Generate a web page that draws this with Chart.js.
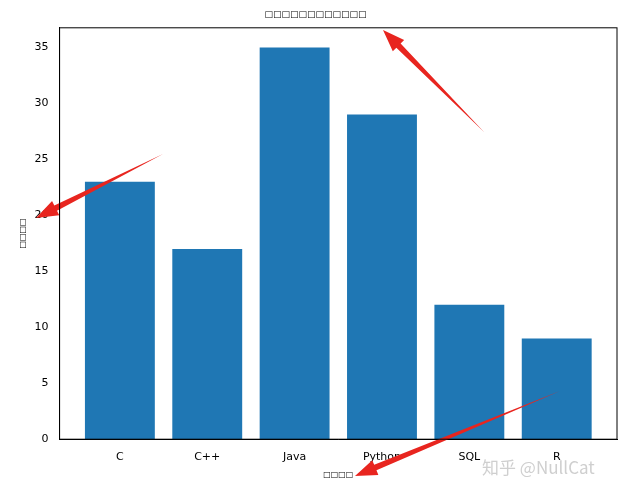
<!DOCTYPE html>
<html>
<head>
<meta charset="utf-8">
<script src="https://cdn.jsdelivr.net/npm/chart.js"></script>
<style>
  body { margin: 0; background: #fff; }
  #wrap { width: 643px; height: 496px; }
</style>
</head>
<body>
<div id="wrap"><canvas id="chart"></canvas></div>
<script>
var languages = ['C', 'C++', 'Java', 'Python', 'SQL', 'R'];
var counts = [23, 17, 35, 29, 12, 9];
var yTicks = [0, 5, 10, 15, 20, 25, 30, 35];
var titleText = '□□□□□□□□□□□□';
var axisText = '□□□□';

// red arrows + watermark drawn over the chart
var overlay = {
  id: 'overlay',
  afterDraw: function(chart) {
    var c = chart.ctx;
    function arrow(x1, y1, x2, y2) {
      var a = Math.atan2(y2 - y1, x2 - x1);
      c.save();
      c.fillStyle = '#e8251f';
      c.beginPath();
      c.moveTo(x1, y1);
      c.lineTo(x2 - 22 * Math.cos(a) - 3 * Math.sin(a), y2 - 22 * Math.sin(a) + 3 * Math.cos(a));
      c.lineTo(x2 - 22 * Math.cos(a) - 8 * Math.sin(a), y2 - 22 * Math.sin(a) + 8 * Math.cos(a));
      c.lineTo(x2, y2);
      c.lineTo(x2 - 22 * Math.cos(a) + 8 * Math.sin(a), y2 - 22 * Math.sin(a) - 8 * Math.cos(a));
      c.lineTo(x2 - 22 * Math.cos(a) + 3 * Math.sin(a), y2 - 22 * Math.sin(a) - 3 * Math.cos(a));
      c.closePath();
      c.fill();
      c.restore();
    }
    arrow(484, 132, 383, 30);
    arrow(163, 154, 36, 218);
    arrow(560, 391, 355, 476);
    c.save();
    c.font = '17px "Noto Sans CJK SC"';
    c.fillStyle = '#cfcfcf';
    c.fillText('知乎 @NullCat', 482, 474);
    c.restore();
  }
};

new Chart(document.getElementById('chart'), {
  type: 'bar',
  data: {
    datasets: [{
      data: counts.map(function(v, i) { return { x: i, y: v }; }),
      backgroundColor: '#1f77b4',
      categoryPercentage: 1,
      barPercentage: 0.8
    }]
  },
  options: {
    responsive: true,
    maintainAspectRatio: false,
    animation: false,
    layout: { padding: { left: 14, right: 26, top: 4, bottom: 12 } },
    plugins: {
      legend: { display: false },
      tooltip: { enabled: false },
      title: {
        display: true,
        text: titleText,
        color: '#000',
        font: { family: 'DejaVu Sans', size: 9, weight: 'normal' },
        padding: { top: 5, bottom: 8 }
      }
    },
    scales: {
      x: {
        type: 'linear',
        min: -0.69,
        max: 5.69,
        offset: false,
        afterBuildTicks: function(axis) { axis.ticks = languages.map(function(l, i) { return { value: i }; }); },
        grid: { display: false },
        border: { color: '#000' },
        ticks: { color: '#000', font: { family: 'DejaVu Sans', size: 11 }, callback: function(v) { return languages[v]; } },
        title: { display: true, text: axisText, color: '#000', font: { family: 'DejaVu Sans', size: 8 }, padding: { top: 4 } }
      },
      y: {
        min: 0,
        max: 36.75,
        afterBuildTicks: function(axis) { axis.ticks = yTicks.map(function(v) { return { value: v }; }); },
        grid: { display: false },
        border: { color: '#000' },
        ticks: { color: '#000', font: { family: 'DejaVu Sans', size: 11 } },
        title: { display: true, text: axisText, color: '#000', font: { family: 'DejaVu Sans', size: 8 }, padding: 4 }
      }
    }
  },
  plugins: [overlay, {
    id: 'frame',
    afterDraw: function(chart) {
      var a = chart.chartArea, c = chart.ctx;
      c.save();
      c.strokeStyle = '#000';
      c.lineWidth = 1;
      c.strokeRect(a.left, a.top, a.right - a.left, a.bottom - a.top);
      c.restore();
    }
  }]
});
</script>
</body>
</html>
